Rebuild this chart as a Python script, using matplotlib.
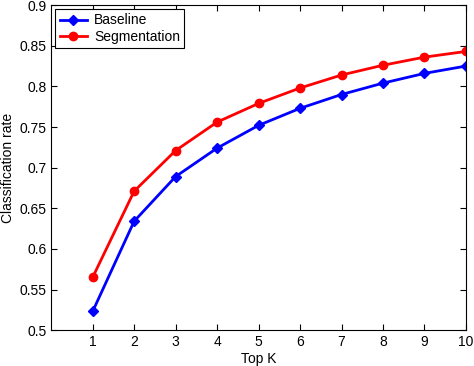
import matplotlib
matplotlib.use('agg')
import matplotlib.pyplot as plt

top_k = [1, 2, 3, 4, 5, 6, 7, 8, 9, 10]
baseline = [0.523, 0.634, 0.689, 0.724, 0.752, 0.773, 0.790, 0.804, 0.816, 0.825]
segmentation = [0.565, 0.671, 0.721, 0.756, 0.779, 0.798, 0.814, 0.826, 0.836, 0.843]
yticks = [0.5, 0.55, 0.6, 0.65, 0.7, 0.75, 0.8, 0.85, 0.9]
ytick_labels = ['0.5', '0.55', '0.6', '0.65', '0.7', '0.75', '0.8', '0.85', '0.9']

plt.rcParams['font.family'] = ['Liberation Sans', 'DejaVu Sans']
plt.rcParams['font.size'] = 10

fig = plt.figure(figsize=(4.74, 3.66), dpi=100)
ax = fig.add_axes([0.108, 0.098, 0.875, 0.888])

ax.plot(top_k, baseline, color='#0000ff', marker='D', markersize=5, linewidth=2, label='Baseline')
ax.plot(top_k, segmentation, color='#ff0000', marker='o', markersize=6, linewidth=2, label='Segmentation')

ax.set_xlim(0, 10)
ax.set_ylim(0.5, 0.9)
ax.set_xticks(top_k)
ax.set_yticks(yticks)
ax.set_yticklabels(ytick_labels)
ax.tick_params(direction='in', top=True, right=True, length=4, width=0.8)
for s in ax.spines.values():
    s.set_linewidth(0.8)

ax.set_xlabel('Top K', labelpad=2)
ax.set_ylabel('Classification rate', labelpad=3)

leg = ax.legend(loc='upper left', fancybox=False, framealpha=1, edgecolor='black',
                borderpad=0.3, labelspacing=0.2, handlelength=2.0, handletextpad=0.5,
                borderaxespad=0.3)
leg.get_frame().set_linewidth(0.8)

plt.savefig('out.png', dpi=100)
